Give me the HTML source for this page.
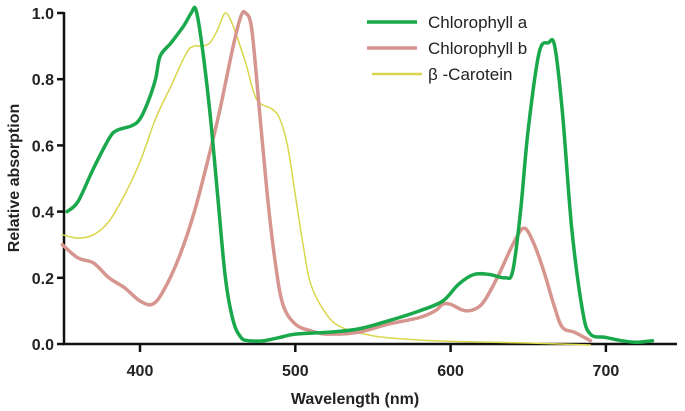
<!DOCTYPE html>
<html><head><meta charset="utf-8"><style>
body{margin:0;background:#fff}
svg{display:block;font-family:"Liberation Sans",sans-serif}
</style></head><body>
<svg id="c" width="685" height="411"></svg>
<script>
const chlAWl=[353,360,370,380,385,395,400,405,410,413,420,428,433,436,440,445,450,455,460,465,470,480,490,500,520,540,560,580,595,605,615,625,635,640,645,650,657,663,667,672,678,685,690,700,710,720,730];
const chlAVal=[0.40,0.43,0.53,0.62,0.645,0.66,0.68,0.73,0.80,0.87,0.91,0.96,1.00,1.01,0.90,0.70,0.45,0.20,0.07,0.02,0.01,0.01,0.02,0.03,0.035,0.045,0.07,0.10,0.13,0.18,0.21,0.21,0.20,0.22,0.40,0.65,0.88,0.91,0.90,0.70,0.35,0.10,0.03,0.02,0.01,0.005,0.01];
const chlBWl=[350,360,370,380,390,400,408,415,425,435,445,452,460,465,468,472,477,482,487,492,500,510,520,540,560,580,590,595,600,610,620,630,640,647,653,660,667,672,680,690];
const chlBVal=[0.30,0.26,0.245,0.20,0.17,0.13,0.12,0.16,0.26,0.40,0.58,0.72,0.90,0.99,1.00,0.95,0.70,0.45,0.25,0.12,0.06,0.04,0.03,0.035,0.06,0.08,0.10,0.12,0.12,0.10,0.12,0.20,0.30,0.35,0.31,0.22,0.11,0.05,0.035,0.01];
const carWl=[350,360,370,380,390,400,410,420,430,435,440,445,450,455,460,468,475,485,490,495,500,505,510,520,530,550,570,600,650,690];
const carVal=[0.33,0.32,0.33,0.37,0.45,0.55,0.68,0.78,0.88,0.90,0.90,0.91,0.95,1.00,0.96,0.85,0.74,0.71,0.68,0.60,0.45,0.30,0.18,0.09,0.05,0.025,0.015,0.008,0.003,-0.003];
const xTicks=[400,500,600,700];
const yTicks=[0,0.2,0.4,0.6,0.8,1.0];
const xs=w=>140+(w-400)*1.553;
const ys=v=>344-v*331;
const NS="http://www.w3.org/2000/svg";
const svg=document.getElementById('c');
function mk(t,a,p){const e=document.createElementNS(NS,t);for(const k in a)e.setAttribute(k,a[k]);(p||svg).appendChild(e);return e;}
const ax=mk('path',{d:'M64 12 L64 344 L677 344',fill:'none',stroke:'#111','stroke-width':2.5});


yTicks.forEach(v=>{
 const t=mk('line',{x1:57,x2:64,y1:ys(v),y2:ys(v),stroke:'#111','stroke-width':2.5});
 
 
 const l=mk('text',{x:54,y:ys(v)+6,'text-anchor':'end','font-size':16,'font-weight':'bold',fill:'#222'});
 l.textContent=v.toFixed(1);
 
 
});
xTicks.forEach(w=>{
 const t=mk('line',{x1:xs(w),x2:xs(w),y1:344,y2:352,stroke:'#111','stroke-width':2.5});
 
 
 const l=mk('text',{x:xs(w),y:376,'text-anchor':'middle','font-size':16,'font-weight':'bold',fill:'#222'});
 l.textContent=w;
 
 
});
const xt=mk('text',{x:355,y:404,'text-anchor':'middle','font-size':16,'font-weight':'bold',fill:'#222'});
xt.textContent='Wavelength (nm)';


const yt=mk('text',{x:0,y:0,transform:'translate(19,178) rotate(-90)','text-anchor':'middle','font-size':16,'font-weight':'bold',fill:'#222'});
yt.textContent='Relative absorption';


function line(wl,val,col,w,name){
 const P=wl.map((x,i)=>[xs(x),ys(val[i])]);
 let d='M'+P[0][0].toFixed(1)+' '+P[0][1].toFixed(1);
 for(let i=0;i<P.length-1;i++){
  const p0=P[Math.max(0,i-1)],p1=P[i],p2=P[i+1],p3=P[Math.min(P.length-1,i+2)];
  const c1=[p1[0]+(p2[0]-p0[0])/6,p1[1]+(p2[1]-p0[1])/6];
  const c2=[p2[0]-(p3[0]-p1[0])/6,p2[1]-(p3[1]-p1[1])/6];
  d+=' C'+c1.map(n=>n.toFixed(1)).join(' ')+' '+c2.map(n=>n.toFixed(1)).join(' ')+' '+p2.map(n=>n.toFixed(1)).join(' ');
 }
 const p=mk('path',{d:d,fill:'none',stroke:col,'stroke-width':w,'stroke-linejoin':'round','stroke-linecap':'round'});
 
 
}
line(carWl,carVal,'#d9d64c',1.5,'beta-carotene-line');
line(chlBWl,chlBVal,'#d6968f',3.5,'chlorophyll-b-line');
line(chlAWl,chlAVal,'#19a84b',3.5,'chlorophyll-a-line');
const leg=[['Chlorophyll a','#19a84b',3.5,367],['Chlorophyll b','#d6968f',3.5,367],['β -Carotein','#d9d64c',2.5,372]];
leg.forEach((e,i)=>{
 const y=22+i*26;
 const l=mk('line',{x1:e[3],x2:417+(i==2?5:0),y1:y,y2:y,stroke:e[1],'stroke-width':e[2]});
 
 
 const t=mk('text',{x:428,y:y+6,'font-size':17,fill:'#222'});
 t.textContent=e[0];
 
 
});
</script>
</body></html>
